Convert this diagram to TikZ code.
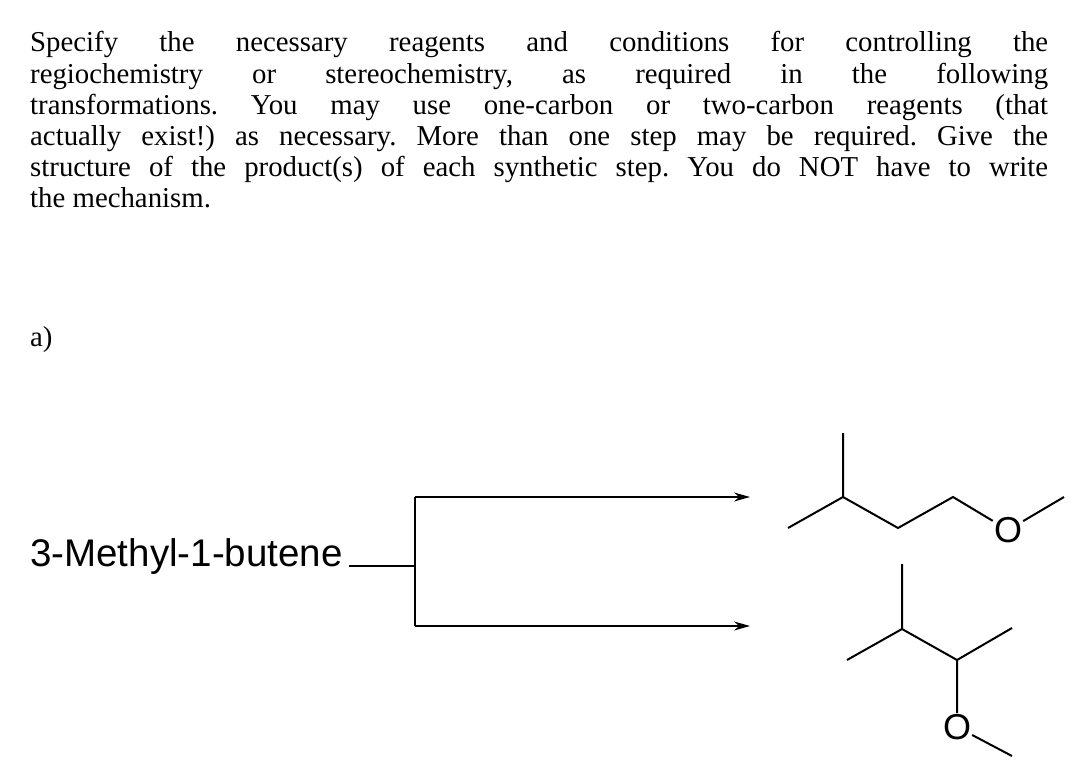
\documentclass[tikz,border=0pt]{standalone}
\usepackage{fontspec}
\setmainfont{Liberation Serif}
\newfontfamily\arial{Liberation Sans}
\usetikzlibrary{arrows.meta}
\frenchspacing
\begin{document}
\begin{tikzpicture}[x=1pt,y=-1pt,
  bond/.style={line width=2pt},
  conn/.style={line width=1.6pt},
  arr/.style={conn,-{Stealth[length=16pt,width=9pt]}},
  para/.style={anchor=base west,inner sep=0pt,font=\frenchspacing\fontsize{28.8}{31}\selectfont},
  atom/.style={inner sep=1pt,font=\arial\fontsize{36}{38}\selectfont}]
\useasboundingbox (0,0) rectangle (1086,776);
\node[para] (l1) at (30,52) {\makebox[1018pt][s]{Specify the necessary reagents and conditions for controlling the}};
\node[para] (l2) at (30,83) {\makebox[1018pt][s]{regiochemistry or stereochemistry, as required in the following}};
\node[para] (l3) at (30,114) {\makebox[1018pt][s]{transformations. You may use one-carbon or two-carbon reagents (that}};
\node[para] (l4) at (30,145) {\makebox[1018pt][s]{actually exist!) as necessary. More than one step may be required. Give the}};
\node[para] (l5) at (30,176) {\makebox[1018pt][s]{structure of the product(s) of each synthetic step. You do NOT have to write}};
\node[para] (l6) at (30,207) {the mechanism.};
\node[para] (a) at (30,346) {a)};
\node[anchor=west,inner sep=2pt,font=\arial\fontsize{38.5}{40}\selectfont] (sm) at (28,557) {3-Methyl-1-butene};
\coordinate (j) at (415,566);
\coordinate (jt) at (415,497);
\coordinate (jb) at (415,626);
\coordinate (pt) at (750,497);
\coordinate (pb) at (750,626);
\draw[conn] (sm.east |- j) ++(4,0) -- (j);
\draw[conn] (jt) -- (jb);
\draw[arr] (jt) -- (pt);
\draw[arr] (jb) -- (pb);
% product 1
\coordinate (a1) at (843,433); \coordinate (a2) at (843,497);
\coordinate (a3) at (788,528); \coordinate (a4) at (898,528);
\coordinate (a5) at (953,497); \node[atom] (o1) at (1008,530) {O};
\coordinate (a6) at (1064,497);
\draw[bond] (a1)--(a2)--(a3) (a2)--(a4)--(a5)--(o1)--(a6);
% product 2
\coordinate (b1) at (902,564); \coordinate (b2) at (902,629);
\coordinate (b3) at (847,660); \coordinate (b4) at (957,660);
\coordinate (b5) at (1012,628); \node[atom] (o2) at (957,727) {O};
\coordinate (b6) at (1012,756);
\draw[bond] (b1)--(b2)--(b3) (b2)--(b4)--(b5) (b4)--(o2)--(b6);
\end{tikzpicture}
\end{document}
